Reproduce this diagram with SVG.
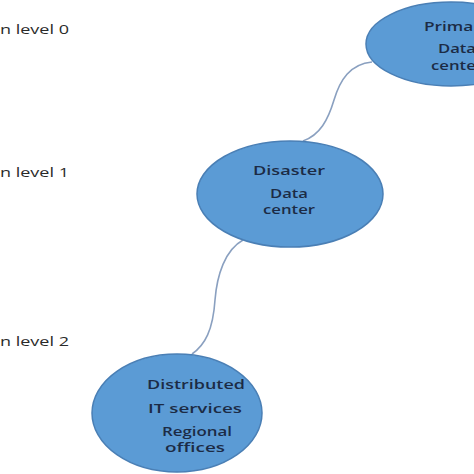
<svg xmlns="http://www.w3.org/2000/svg" width="474" height="474" viewBox="0 0 474 474">
<style>
.node{fill:#5b9bd5;stroke:#4a7fb5;stroke-width:1.5}
.nt{font-family:"Open Sans","Liberation Sans",sans-serif;font-size:12.5px;font-weight:600;fill:#1c2b45;text-anchor:middle}
.lvl{font-family:"Open Sans","Liberation Sans",sans-serif;font-size:13px;fill:#2a2a2a}
.conn{fill:none;stroke:#8aa0c0;stroke-width:1.6}
</style>
<rect width="474" height="474" fill="#ffffff"/>
<g id="labels">
<text class="lvl" x="0" y="34" textLength="69" lengthAdjust="spacingAndGlyphs">n level 0</text>
<text class="lvl" x="0" y="177" textLength="69" lengthAdjust="spacingAndGlyphs">n level 1</text>
<text class="lvl" x="0" y="346" textLength="69" lengthAdjust="spacingAndGlyphs">n level 2</text>
</g>
<g id="connectors">
<path class="conn" d="M372,62 C350,64 340,80 334,100 C328,120 320,135 303,141"/>
<path class="conn" d="M243,240 C225,250 217,275 215,300 C213,330 205,345 192,354"/>
</g>
<g id="primary">
<ellipse class="node" cx="451" cy="44" rx="85" ry="42"/>
<text class="nt" x="457" y="31" textLength="66" lengthAdjust="spacingAndGlyphs">Primary</text>
<text class="nt" x="457" y="53" textLength="38" lengthAdjust="spacingAndGlyphs">Data</text>
<text class="nt" x="457" y="70" textLength="52" lengthAdjust="spacingAndGlyphs">center</text>
</g>
<g id="disaster">
<ellipse class="node" cx="290" cy="194" rx="93" ry="53"/>
<text class="nt" x="289" y="175" textLength="72" lengthAdjust="spacingAndGlyphs">Disaster</text>
<text class="nt" x="289" y="198" textLength="38" lengthAdjust="spacingAndGlyphs">Data</text>
<text class="nt" x="289" y="214" textLength="52" lengthAdjust="spacingAndGlyphs">center</text>
</g>
<g id="distributed">
<ellipse class="node" cx="177" cy="413" rx="85" ry="59"/>
<text class="nt" x="196" y="389" textLength="98" lengthAdjust="spacingAndGlyphs">Distributed</text>
<text class="nt" x="195" y="413" textLength="94" lengthAdjust="spacingAndGlyphs">IT services</text>
<text class="nt" x="197" y="436" textLength="70" lengthAdjust="spacingAndGlyphs">Regional</text>
<text class="nt" x="195" y="452" textLength="60" lengthAdjust="spacingAndGlyphs">offices</text>
</g>
</svg>
